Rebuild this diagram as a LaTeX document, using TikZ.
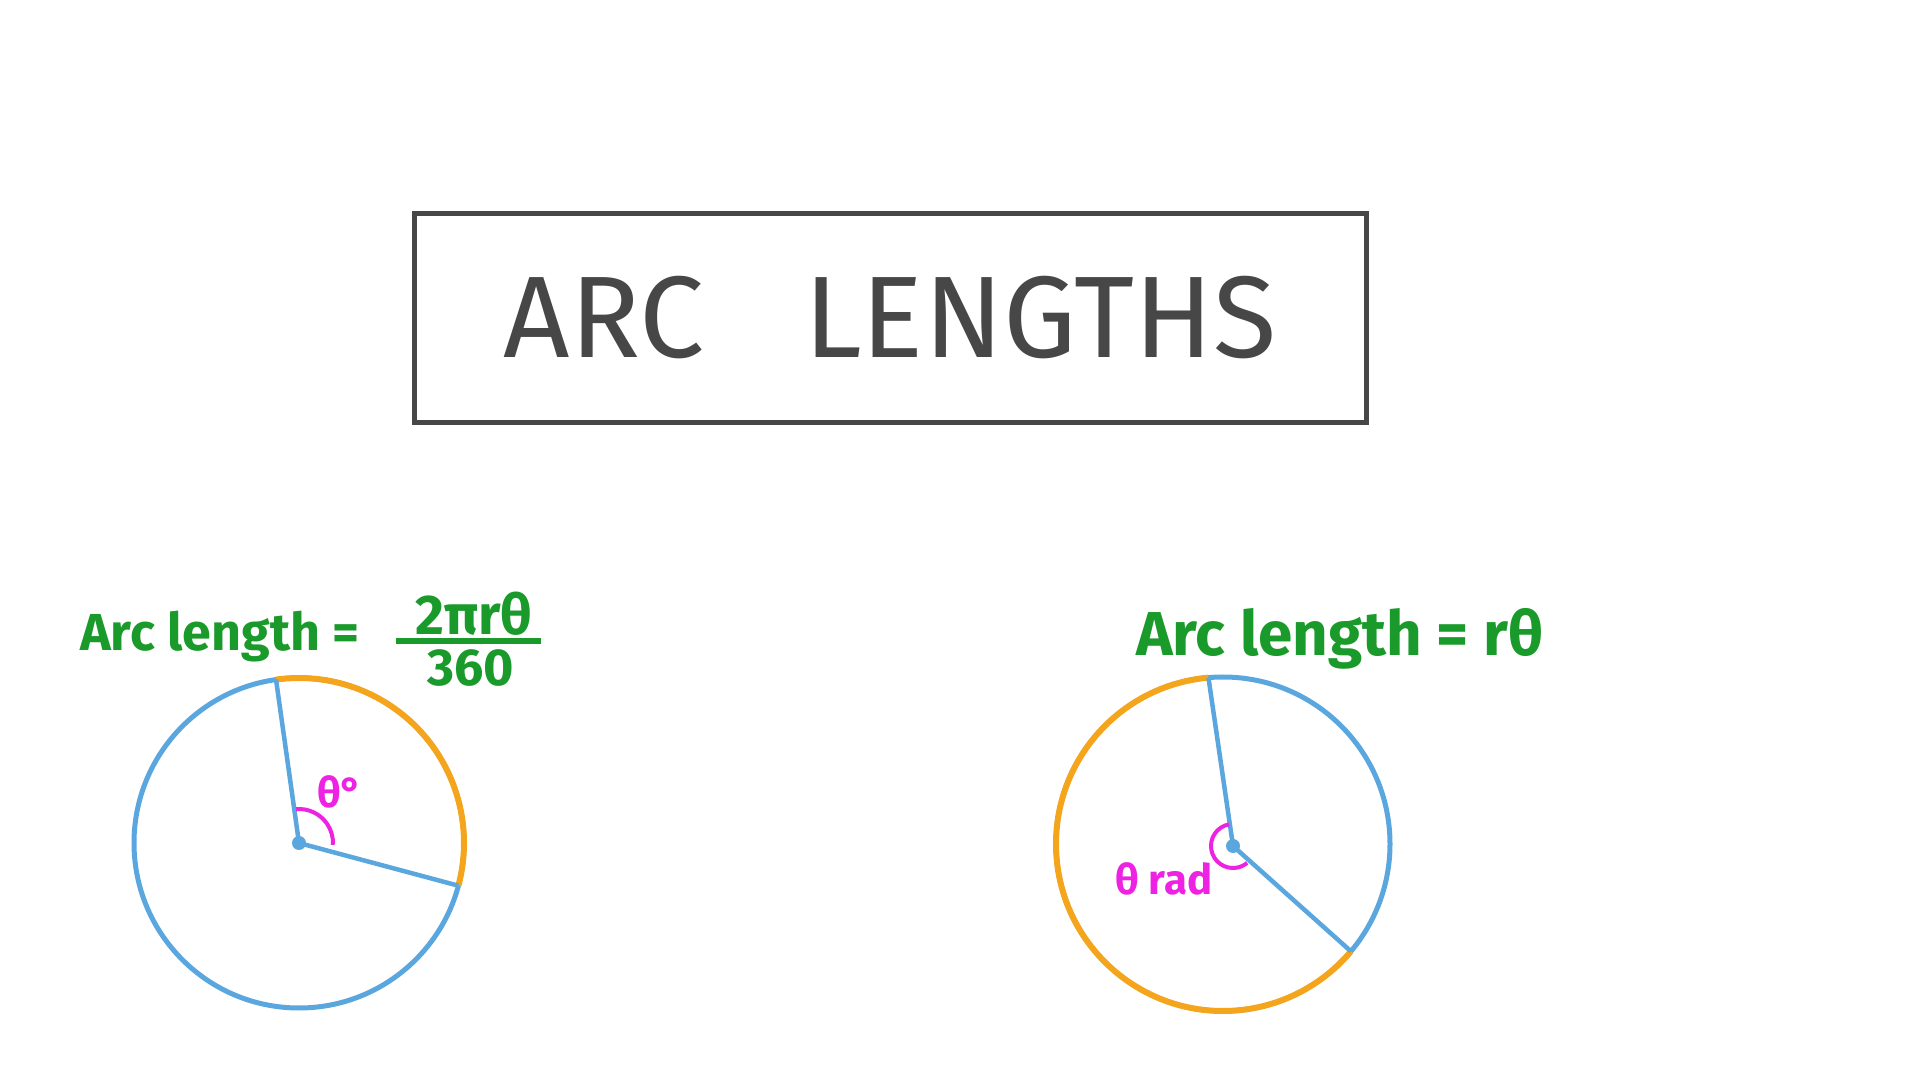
\documentclass[tikz,border=0pt]{standalone}
\usepackage{fontspec}
\setmainfont{Fira Sans}
\usetikzlibrary{positioning}

\definecolor{titlegray}{HTML}{474747}
\definecolor{arcblue}{HTML}{5AA6DE}
\definecolor{arcorange}{HTML}{F4A51C}
\definecolor{labgreen}{HTML}{1A9A2A}
\definecolor{angpink}{HTML}{EE22E2}

\tikzset{
  titlebox/.style={draw=titlegray, line width=5pt, text=titlegray,
    font=\fontsize{116}{120}\selectfont},
  eqlab/.style={text=labgreen, inner sep=0pt, font=\bfseries\fontsize{52}{54}\selectfont},
  anglab/.style={text=angpink, inner sep=0pt, font=\bfseries\fontsize{42}{44}\selectfont},
  rim/.style={arcblue, line width=5pt},
  arcseg/.style={arcorange, line width=6pt},
  spoke/.style={arcblue, line width=4.5pt},
  angmark/.style={angpink, line width=4pt},
  fracbar/.style={labgreen, line width=6pt}
}

\begin{document}
\begin{tikzpicture}[x=1pt,y=1pt]
    \useasboundingbox (0,0) rectangle (1920,1080);

    % Title
    \node[titlebox, minimum width=952pt, minimum height=209pt] (title) at (890,762) {ARC\hspace{100pt}LENGTHS};

    % Degrees formula
    \node[eqlab, anchor=west] (leftlab) at (80,443) {Arc length =};
    \node[eqlab, font=\bfseries\fontsize{56}{58}\selectfont] (leftnum) at (474,466) {2πrθ};
    \node[eqlab] (leftden) at (471,412) {360};
    \coordinate (barL) at (396,439);
    \coordinate (barR) at (541,439);
    \draw[fracbar] (barL) -- (barR);

    % Radians formula
    \node[eqlab, anchor=west, font=\bfseries\fontsize{62}{64}\selectfont] (rightlab) at (1136,441) {Arc length = rθ};

    % Left circle, angle in degrees
    \coordinate (lc) at (299,237);
    \draw[rim] (lc) circle[radius=165];
    \path (lc) ++(98:165) coordinate (la);
    \path (lc) ++(-15:165) coordinate (lb);
    \draw[arcseg] (la) arc[start angle=98, end angle=-15, radius=165];
    \draw[spoke] (lc) -- (la);
    \draw[spoke] (lc) -- (lb);
    \fill[arcblue] (lc) circle[radius=7];
    \draw[angmark] (lc) ++(95:34) arc[start angle=95, end angle=-3, radius=34];
    \node[anglab] (ldeg) at (340,288) {θ°};

    % Right circle, angle in radians
    \coordinate (rc) at (1223,236);
    \coordinate (hub) at (1233,234);
    \draw[rim] (rc) circle[radius=167];
    \path (rc) ++(95:167) coordinate (ra);
    \path (rc) ++(-40:167) coordinate (rb);
    \draw[arcseg] (ra) arc[start angle=95, end angle=320, radius=167];
    \draw[spoke] (hub) -- (ra);
    \draw[spoke] (hub) -- (rb);
    \fill[arcblue] (hub) circle[radius=7];
    \draw[angmark] (hub) ++(100:22) arc[start angle=100, end angle=310, radius=22];
    \node[anglab] (rrad) at (1164,201) {θ rad};
\end{tikzpicture}
\end{document}
